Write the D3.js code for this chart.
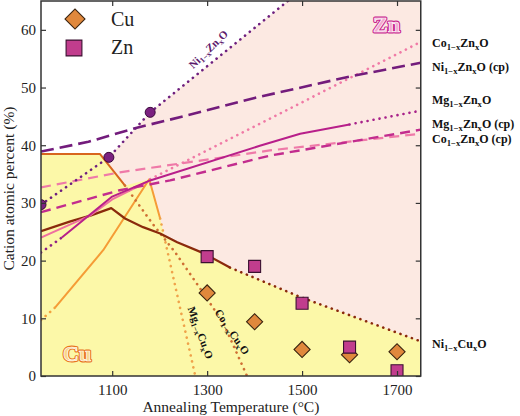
<!DOCTYPE html>
<html>
<head>
<meta charset="utf-8">
<script src="https://d3js.org/d3.v7.min.js"></script>
<style>
  body { margin: 0; background: #fff; }
  svg { display: block; font-family: "Liberation Serif", "DejaVu Serif", serif; }
  .tick line { stroke: #333; stroke-width: 1.2px; }
  .tick text { font-size: 15px; fill: #222; font-family: "Liberation Serif", serif; }
  .sideLabel { font-size: 12px; font-weight: bold; fill: #111; }
</style>
</head>
<body>
<div id="chart"></div>
<script>
  // measured points [temperature °C, cation atomic percent]
  const cuTemps = [1300, 1400, 1500, 1600, 1700];
  const cuValues = [14.4, 9.4, 4.6, 3.7, 4.2];
  const znValues = [20.7, 19.0, 12.6, 5.0, 0.9];

  const xTicks = [1100, 1300, 1500, 1700];
  const yTicks = [0, 10, 20, 30, 40, 50, 60];

  // Zn solubility lines
  const niZnPoints = [[950, 29.7], [1093, 37.9], [1180, 45.7]];
  const niZnExtra = [[1180, 45.7], [1500, 67.0]];
  const niZnCp = [[950, 38.9], [1050, 40.6], [1150, 43.0], [1250, 45.0], [1400, 48.2], [1600, 51.9], [1750, 54.3]];
  const mgZnLeft = [[950, 21.4], [994, 24.0]];
  const mgZnSolid = [[994, 24.0], [1100, 31.1], [1180, 33.9], [1411, 39.9], [1496, 42.0], [1600, 43.6]];
  const mgZnRight = [[1600, 43.6], [1750, 46.0]];
  const mgZnCp = [[950, 28.4], [1116, 32.2], [1222, 33.9], [1432, 38.2], [1750, 42.7]];
  const coZnSolid = [[950, 24.0], [1053, 27.8], [1100, 30.6], [1180, 33.9]];
  const coZnExtra = [[1180, 34.1], [1432, 44.6], [1750, 57.9]];
  const coZnCp = [[950, 32.7], [1116, 35.3], [1432, 39.1], [1750, 42.0]];

  // Cu solubility lines
  const coCuSolid = [[950, 38.5], [1074, 38.5], [1127, 33.0]];
  const coCuExtra = [[1127, 33.0], [1184, 26.5], [1233, 21.4], [1285, 15.2], [1334, 9.2], [1384, 0]];
  const mgCuLeft = [[950, 9.7], [980, 11.9]];
  const mgCuSolid = [[980, 11.9], [1081, 21.8], [1178, 34.1], [1201, 27.3]];
  const mgCuExtra = [[1201, 27.3], [1275, 0]];
  const niCuSolid = [[950, 25.1], [1012, 26.8], [1054, 27.8], [1098, 29.1], [1127, 27.3], [1165, 25.8],
                     [1201, 24.7], [1237, 23.2], [1292, 21.3], [1348, 18.8]];
  const niCuExtra = [[1348, 18.8], [1496, 13.7], [1750, 6.0]];

  const W = 520, H = 416;
  const pLeft = 41, pTop = 1, pRight = 420.75, pBottom = 376;

  const x = d3.scaleLinear().domain([950, 1750]).range([pLeft, pRight]);
  const y = d3.scaleLinear().domain([0, 65]).range([pBottom, pTop]);
  const line = d3.line().x(d => x(d[0])).y(d => y(d[1]));

  const svg = d3.select("#chart").append("svg").attr("width", W).attr("height", H);

  svg.append("clipPath").attr("id", "plot")
    .append("rect").attr("x", pLeft).attr("y", pTop).attr("width", pRight - pLeft).attr("height", pBottom - pTop);

  const plot = svg.append("g").attr("clip-path", "url(#plot)");

  // where the Mg1-xCuxO extension meets the Ni1-xCuxO curve
  function interp(pts, t) {
    for (let i = 1; i < pts.length; i++) {
      if (t <= pts[i][0]) {
        const a = pts[i - 1], b = pts[i];
        return a[1] + (b[1] - a[1]) * (t - a[0]) / (b[0] - a[0]);
      }
    }
    return pts[pts.length - 1][1];
  }
  let tCross = mgCuExtra[0][0];
  while (interp(mgCuExtra, tCross) > interp(niCuSolid, tCross)) tCross += 0.5;
  const crossPt = [tCross, interp(niCuSolid, tCross)];

  // background regions
  const znRegion = [...niZnPoints, niZnExtra[1], [1750, 67], [1750, 0], [950, 0]];
  const cuRegion = [...coCuSolid, mgCuSolid[2], mgCuSolid[3], crossPt,
    ...niCuSolid.filter(d => d[0] > tCross), ...niCuExtra.slice(1), [1750, 0], [950, 0]];

  plot.append("path").attr("d", line(znRegion) + "Z").attr("fill", "#fce9e2");
  plot.append("path").attr("d", line(cuRegion) + "Z").attr("fill", "#fcf8a8");

  function drawLine(pts, color, width, dash) {
    const p = plot.append("path").attr("d", line(pts))
      .attr("fill", "none").attr("stroke", color).attr("stroke-width", width)
      .attr("stroke-linejoin", "round");
    if (dash === "dot") p.attr("stroke-dasharray", "0.1 6").attr("stroke-linecap", "round");
    else if (dash) p.attr("stroke-dasharray", dash);
    return p;
  }

  // Cu lines
  drawLine(mgCuLeft, "#f2a23e", 2.6, "dot");
  drawLine(mgCuSolid, "#f59c36", 2, null);
  drawLine(mgCuExtra, "#efa24a", 2.6, "dot");
  drawLine(coCuSolid, "#d8661e", 2, null);
  drawLine(coCuExtra, "#cf6f34", 2.6, "dot");
  drawLine(niCuSolid, "#8a2a0c", 2.2, null);
  drawLine(niCuExtra, "#8a2a0c", 2.6, "dot");

  // Zn lines
  drawLine(coZnCp, "#ef7aa8", 2.2, "10 6");
  drawLine(coZnSolid, "#ef6f9f", 2, null);
  drawLine(coZnExtra, "#f07aa6", 2.6, "dot");
  drawLine(mgZnCp, "#c22c8e", 2.4, "10 6");
  drawLine(mgZnLeft, "#8e1f84", 2.6, "dot");
  drawLine(mgZnSolid, "#b81f8a", 2, null);
  drawLine(mgZnRight, "#a8228a", 2.6, "dot");
  drawLine(niZnCp, "#731c7c", 2.6, "13 6");
  drawLine(niZnPoints, "#6e1f7e", 2.6, "dot");
  drawLine(niZnExtra, "#6e1f7e", 2.6, "dot");

  plot.selectAll(".niCircle").data(niZnPoints).enter().append("circle")
    .attr("cx", d => x(d[0])).attr("cy", d => y(d[1])).attr("r", 5)
    .attr("fill", "#7b2180").attr("stroke", "#3a0a3a").attr("stroke-width", 1);

  // measured markers
  plot.selectAll(".cu").data(cuTemps).enter().append("path")
    .attr("d", d3.symbol().type(d3.symbolSquare).size(130)())
    .attr("transform", (d, i) => `translate(${x(d)},${y(cuValues[i])}) rotate(45)`)
    .attr("fill", "#e0883c").attr("stroke", "#3a2410").attr("stroke-width", 1.1);
  plot.selectAll(".zn").data(cuTemps).enter().append("path")
    .attr("d", d3.symbol().type(d3.symbolSquare).size(144)())
    .attr("transform", (d, i) => `translate(${x(d)},${y(znValues[i])})`)
    .attr("fill", "#c13d8d").attr("stroke", "#3a1030").attr("stroke-width", 1.1);

  // axes, ticks pointing inward
  svg.append("g").attr("transform", `translate(0,${pBottom})`)
    .call(d3.axisBottom(x).tickValues(xTicks).tickFormat(d3.format("d")).tickSize(-5).tickPadding(8));
  svg.append("g").attr("transform", `translate(0,${pTop})`)
    .call(d3.axisTop(x).tickValues(xTicks).tickFormat("").tickSize(-5));
  svg.append("g").attr("transform", `translate(${pLeft},0)`)
    .call(d3.axisLeft(y).tickValues(yTicks).tickSize(-5).tickPadding(5));
  svg.append("g").attr("transform", `translate(${pRight},0)`)
    .call(d3.axisRight(y).tickValues(yTicks).tickFormat("").tickSize(-5));
  svg.selectAll(".domain").remove();

  svg.append("rect").attr("x", pLeft).attr("y", pTop).attr("width", pRight - pLeft).attr("height", pBottom - pTop)
    .attr("fill", "none").attr("stroke", "#333").attr("stroke-width", 1.5);

  // axis titles
  svg.append("text").attr("x", (pLeft + pRight) / 2).attr("y", 412).attr("text-anchor", "middle")
    .attr("font-size", 15.5).attr("fill", "#222").text("Annealing Temperature (°C)");
  svg.append("text").attr("transform", `translate(14,${(pTop + pBottom) / 2}) rotate(-90)`)
    .attr("text-anchor", "middle").attr("font-size", 15.5).attr("fill", "#222")
    .text("Cation atomic percent (%)");

  // legend
  svg.append("path").attr("d", d3.symbol().type(d3.symbolSquare).size(200)())
    .attr("transform", "translate(75,19) rotate(45)")
    .attr("fill", "#e0883c").attr("stroke", "#3a2410").attr("stroke-width", 1.1);
  svg.append("path").attr("d", d3.symbol().type(d3.symbolSquare).size(250)())
    .attr("transform", "translate(74,48)")
    .attr("fill", "#c13d8d").attr("stroke", "#3a1030").attr("stroke-width", 1.1);
  svg.append("text").attr("x", 111).attr("y", 26).attr("font-size", 20).attr("fill", "#222").text("Cu");
  svg.append("text").attr("x", 111).attr("y", 54).attr("font-size", 20).attr("fill", "#222").text("Zn");

  // region labels: thick coloured outline with a pale inner line
  function regionLabel(xp, yp, txt, edge, inner) {
    svg.append("text").attr("x", xp).attr("y", yp).attr("font-size", 22).attr("font-weight", "bold")
      .attr("fill", edge).attr("stroke", edge).attr("stroke-width", 3).attr("stroke-linejoin", "round").text(txt);
    svg.append("text").attr("x", xp).attr("y", yp).attr("font-size", 22).attr("font-weight", "bold")
      .attr("fill", inner).attr("stroke", "#fff").attr("stroke-width", 0.7).text(txt);
  }
  regionLabel(373, 32, "Zn", "#c8268e", "#f2a9cf");
  regionLabel(63, 361, "Cu", "#e8761e", "#f9d68a");

  // formula label helper: parts [text, isSub]
  function formula(g, parts) {
    let prevSub = false;
    parts.forEach(([t, sub]) => {
      const ts = g.append("tspan").text(t);
      if (sub && !prevSub) ts.attr("font-size", "0.72em").attr("dy", "0.3em");
      else if (!sub && prevSub) ts.attr("dy", "-0.22em");
      prevSub = !!sub;
    });
  }
  function label(xp, yp, parts, opts = {}) {
    const t = svg.append("text").attr("class", "sideLabel")
      .attr("transform", `translate(${xp},${yp}) rotate(${opts.rotate || 0})`)
      .attr("text-anchor", opts.anchor || "start");
    if (opts.color) t.style("fill", opts.color);
    if (opts.size) t.style("font-size", opts.size + "px");
    formula(t, parts);
  }
  const Zn = (m, extra) => [[m, 0], ["1−x", 1], ["Zn", 0], ["x", 1], ["O" + (extra || ""), 0]];
  const Cu = m => [[m, 0], ["1−x", 1], ["Cu", 0], ["x", 1], ["O", 0]];

  label(432, 47, Zn("Co"));
  label(432, 71, Zn("Ni", " (cp)"));
  label(432, 104, Zn("Mg"));
  label(432, 128, Zn("Mg", " (cp)"));
  label(432, 143, Zn("Co", " (cp)"));
  label(432, 348, Cu("Ni"));

  label(211, 52, Zn("Ni"), { rotate: -44, anchor: "middle", color: "#5c1a6c", size: 11 });
  label(197, 334, Cu("Mg"), { rotate: 70, anchor: "middle", size: 11 });
  label(229, 334, Cu("Co"), { rotate: 56, anchor: "middle", size: 11 });
</script>
</body>
</html>
